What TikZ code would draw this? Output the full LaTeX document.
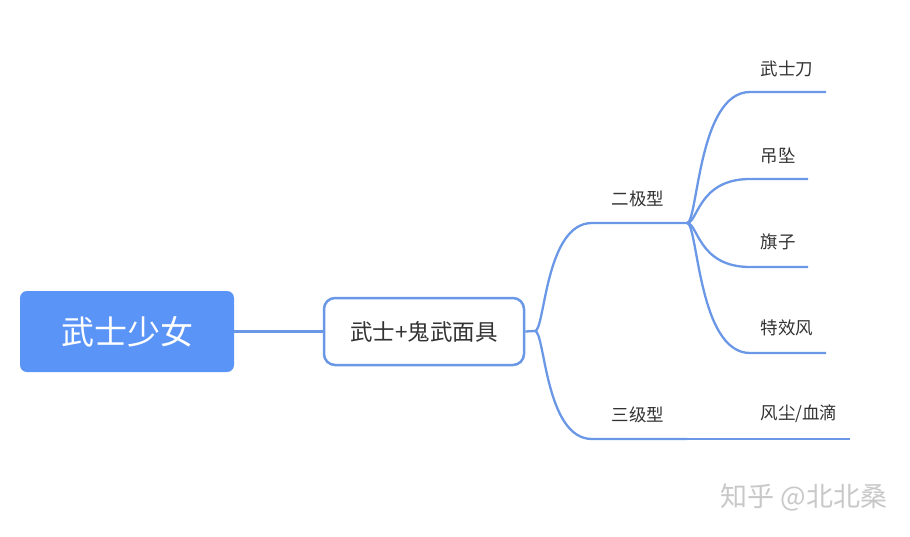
\documentclass[tikz,border=0pt]{standalone}
\usepackage{fontspec}
\setmainfont{Noto Sans CJK SC}
\newfontfamily\cjk{Noto Sans CJK SC}
\definecolor{mmblue}{HTML}{5B94F7}
\definecolor{mmline}{HTML}{6A98E6}
\definecolor{mmtext}{HTML}{333333}
\definecolor{wmgray}{HTML}{C8C8C8}
\tikzset{
  rootbox/.style={fill=mmblue, draw=none, rounded corners=7pt, minimum width=214pt, minimum height=81pt, text=white, font=\cjk\fontsize{33}{36}\selectfont, inner sep=0pt},
  mainbox/.style={fill=white, draw=mmline, line width=2.5pt, rounded corners=11pt, minimum width=200pt, minimum height=67pt, text=mmtext, font=\cjk\fontsize{22.5}{26}\selectfont, inner sep=0pt},
  leaf/.style={text=mmtext, font=\cjk\fontsize{17.5}{20}\selectfont, inner sep=0pt},
  conn/.style={draw=mmline, line width=2.3pt},
}
\begin{document}
\begin{tikzpicture}[x=1pt,y=-1pt]
\useasboundingbox (0,0) rectangle (910,536);
\node[rootbox] (root) at (127,331.5) {武士少女};
\node[mainbox] (main) at (424,331.5) {武士+鬼武面具};
\draw[conn] (root.east) -- (main.west);

\coordinate (j0) at (535,331);
\coordinate (a0) at (592,223);
\coordinate (a1) at (687,223);
\coordinate (b0) at (592,439);
\coordinate (b1) at (687,439);
\draw[conn] (main.east) -- (j0);
\draw[conn] (j0) .. controls (545,331) and (545,223) .. (a0) -- (a1);
\draw[conn] (j0) .. controls (545,331) and (545,439) .. (b0) -- (b1);

\node[leaf] (l2) at (638,199) {二极型};
\node[leaf] (l3) at (638,415) {三级型};

\coordinate (c1s) at (750,92);  \coordinate (c1e) at (826,92);
\coordinate (c2s) at (750,179); \coordinate (c2e) at (808,179);
\coordinate (c3s) at (750,267); \coordinate (c3e) at (808,267);
\coordinate (c4s) at (750,353); \coordinate (c4e) at (826,353);
\coordinate (c5e) at (850,439);
\draw[conn] (a1) .. controls (698,223) and (698,92) .. (c1s) -- (c1e);
\draw[conn] (a1) .. controls (698,223) and (698,179) .. (c2s) -- (c2e);
\draw[conn] (a1) .. controls (698,223) and (698,267) .. (c3s) -- (c3e);
\draw[conn] (a1) .. controls (698,223) and (698,353) .. (c4s) -- (c4e);
\draw[conn] (b1) -- (c5e);

\node[leaf] (w1) at (787,69) {武士刀};
\node[leaf] (w2) at (778,156) {吊坠};
\node[leaf] (w3) at (778,242) {旗子};
\node[leaf] (w4) at (787,328) {特效风};
\node[leaf] (w5) at (799,414) {风尘/血滴};

\node[text=wmgray, font=\cjk\fontsize{27}{30}\selectfont, inner sep=0pt] (wm) at (804,497) {知乎 @北北桑};
\end{tikzpicture}
\end{document}
